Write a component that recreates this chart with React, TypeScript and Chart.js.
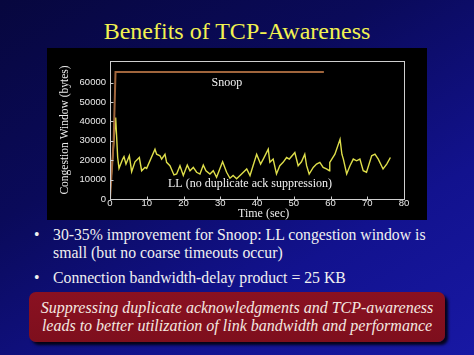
import React, { useEffect, useRef } from "react";
import { Chart, registerables } from "chart.js";

Chart.register(...registerables);

// ---- data ----
const snoopTime = [0, 1.0, 1.5, 58.2];
const snoopWindow = [0, 30000, 65535, 65535];

const llTime = [
  0, 1.54, 2.09, 2.45, 3.45, 3.81, 4.35, 5.26, 5.89, 6.8, 7.98, 8.61, 9.52, 9.97,
  12.24, 12.69, 13.6, 14.05, 14.96, 15.41, 16.32, 17.41, 18.13, 19.04, 19.95,
  21.03, 21.76, 22.67, 23.57, 24.48, 25.39, 26.11, 27.2, 28.1, 29.0, 30.64,
  31.73, 32.64, 33.5, 34.45, 35.8, 37.2, 38.1, 39.9, 40.98, 41.7, 43.06, 43.5,
  44.4, 45.3, 46.2, 47.1, 48.05, 48.8, 50.3, 51.2, 52.1, 53.0, 53.5, 54.2, 55.3,
  56.2, 57.1, 58.0, 58.9, 59.7, 59.8, 61.2, 62.6, 63.1, 63.5, 64.4, 65.3, 66.2,
  67.1, 68.0, 68.9, 69.8, 71.2, 72.1, 73.0, 74.3, 75.3, 76.3,
];
const llWindow = [
  3000, 42000, 21400, 15800, 20600, 21900, 18000, 22300, 14100, 19200, 21400,
  14600, 16300, 15800, 25700, 23100, 22300, 20600, 23100, 18900, 17200, 12400,
  12900, 17200, 12100, 17500, 14600, 16300, 13800, 12900, 17500, 14600, 12900,
  14600, 11200, 19200, 13800, 10700, 12100, 10400, 12900, 15500, 12100, 23100,
  18000, 20600, 25700, 18900, 20600, 12900, 17200, 18900, 21400, 20600, 24000,
  17200, 19200, 23100, 17200, 12900, 16300, 18000, 18900, 16300, 15500, 14600,
  18900, 23100, 30800, 23100, 20600, 12900, 17200, 20600, 19700, 20600, 14600,
  13800, 22300, 23100, 20600, 15500, 18000, 21400,
];

const xMin = 0;
const xMax = 80;
const xStep = 10;
const yMin = 0;
const yMax = 71200;
const yTickValues = [0, 10000, 20000, 30000, 40000, 50000, 60000];

const xTitle = "Time (sec)";
const yTitle = "Congestion Window (bytes)";
const xTitleAt = 41.8; // data-x where the axis title is centred

const noteText = ["Snoop", "LL (no duplicate ack suppression)"];
const noteX = [31.8, 38.1];
const noteY = [60100, 7600];

const slideTitle = "Benefits of TCP-Awareness";
const bullet1a = "30-35% improvement for Snoop: LL congestion window is";
const bullet1b = "small (but no coarse timeouts occur)";
const bullet2 = "Connection bandwidth-delay product = 25 KB";
const boxLine1 = "Suppressing duplicate acknowledgments and TCP-awareness";
const boxLine2 = "leads to better utilization of link bandwidth and performance";

const SERIF = '"Liberation Serif", "Times New Roman", Times, serif';
const SANS = '"Liberation Sans", Arial, Helvetica, sans-serif';

export default function App() {
  const ref = useRef<HTMLCanvasElement>(null);

  useEffect(() => {
    if (!ref.current) return;
    const boxPlugin = {
      id: "boxAndNotes",
      afterDatasetsDraw(chart: any) {
        const { ctx, chartArea: a, scales } = chart;
        const L = Math.round(a.left) + 0.5;
        const T = Math.round(a.top) + 0.5;
        const R = Math.round(a.right) + 0.5;
        const B = Math.round(a.bottom) + 0.5;
        ctx.save();
        ctx.strokeStyle = "#cfcfcf";
        ctx.lineWidth = 1;
        ctx.strokeRect(L, T, R - L, B - T);
        // small inward tick marks
        ctx.beginPath();
        scales.x.ticks.forEach((t: any) => {
          const px = Math.round(scales.x.getPixelForValue(t.value)) + 0.5;
          ctx.moveTo(px, B);
          ctx.lineTo(px, B - 3);
        });
        scales.y.ticks.forEach((t: any) => {
          const py = Math.round(scales.y.getPixelForValue(t.value)) + 0.5;
          ctx.moveTo(L, py);
          ctx.lineTo(L + 3, py);
        });
        ctx.stroke();

        ctx.fillStyle = "#f2f2f2";
        ctx.font = `12px ${SERIF}`;
        ctx.textAlign = "center";
        ctx.textBaseline = "middle";
        noteText.forEach((t, i) => {
          ctx.fillText(
            t,
            scales.x.getPixelForValue(noteX[i]),
            scales.y.getPixelForValue(noteY[i])
          );
        });
        ctx.fillStyle = "#ececec";
        ctx.fillText(xTitle, scales.x.getPixelForValue(xTitleAt), a.bottom + 15);
        ctx.restore();
      },
    };

    const chart = new Chart(ref.current, {
      type: "scatter",
      data: {
        datasets: [
          {
            label: "Snoop",
            data: snoopTime.map((t, i) => ({ x: t, y: snoopWindow[i] })),
            showLine: true,
            borderColor: "#a0653c",
            backgroundColor: "#a0653c",
            borderWidth: 2,
            pointRadius: 0,
          },
          {
            label: "LL",
            data: llTime.map((t, i) => ({ x: t, y: llWindow[i] })),
            showLine: true,
            borderColor: "#dede4a",
            backgroundColor: "#dede4a",
            borderWidth: 1.4,
            pointRadius: 0,
          },
        ],
      },
      options: {
        animation: false,
        responsive: false,
        layout: { padding: { top: 13, right: 23, left: 0, bottom: 0 } },
        plugins: { legend: { display: false }, tooltip: { enabled: false } },
        scales: {
          x: {
            type: "linear",
            min: xMin,
            max: xMax,
            grid: { display: false, drawTicks: false },
            border: { display: false },
            ticks: {
              stepSize: xStep,
              color: "#ececec",
              font: { family: SANS, size: 9.5 },
              padding: -1,
              maxRotation: 0,
            },
            title: { display: false },
            afterFit(s: any) {
              s.height = 21;
            },
          },
          y: {
            type: "linear",
            min: yMin,
            max: yMax,
            grid: { display: false, drawTicks: false },
            border: { display: false },
            afterBuildTicks(s: any) {
              s.ticks = yTickValues.map((v) => ({ value: v }));
            },
            ticks: {
              color: "#ececec",
              font: { family: SANS, size: 9.5 },
              padding: 4,
              callback: (v: any) => String(v),
            },
            title: {
              display: true,
              text: yTitle,
              color: "#ececec",
              font: { family: SERIF, size: 11.5 },
              padding: { top: 11, bottom: 0 },
            },
            afterFit(s: any) {
              s.width = 63;
            },
          },
        },
      },
      plugins: [boxPlugin],
    } as any);
    return () => chart.destroy();
  }, []);

  const abs = (l: number, t: number): React.CSSProperties => ({
    position: "absolute",
    left: l,
    top: t,
    whiteSpace: "nowrap",
  });
  const bulletStyle: React.CSSProperties = {
    fontSize: 15.75,
    lineHeight: "18px",
    color: "#f0f0f0",
  };

  return (
    <div
      style={{
        position: "fixed",
        left: 0,
        top: 0,
        width: 474,
        height: 355,
        overflow: "hidden",
        background:
          "linear-gradient(150deg, #07073e 0%, #0a0a5a 35%, #12128e 70%, #1818a4 100%)",
        fontFamily: SERIF,
      }}
    >
      <div
        style={{
          position: "absolute",
          left: 0,
          top: 17,
          width: 474,
          textAlign: "center",
          fontSize: 24,
          lineHeight: "28px",
          color: "#f2f250",
        }}
      >
        {slideTitle}
      </div>
      <canvas
        ref={ref}
        width={380}
        height={172}
        style={{
          position: "absolute",
          left: 47,
          top: 48,
          width: 380,
          height: 172,
          background: "#000",
        }}
      />
      <div style={{ ...abs(34, 226), ...bulletStyle }}>•</div>
      <div style={{ ...abs(53, 226), ...bulletStyle }}>{bullet1a}</div>
      <div style={{ ...abs(53, 244), ...bulletStyle }}>{bullet1b}</div>
      <div style={{ ...abs(34, 268.5), ...bulletStyle }}>•</div>
      <div style={{ ...abs(53, 268.5), ...bulletStyle }}>{bullet2}</div>
      <div
        style={{
          position: "absolute",
          left: 29,
          top: 292,
          width: 416,
          height: 50,
          boxSizing: "border-box",
          paddingTop: 6.5,
          borderRadius: 7,
          background: "linear-gradient(180deg, #8a1121 0%, #7e0f1d 100%)",
          boxShadow: "3px 3px 3px rgba(0,0,0,0.85)",
          textAlign: "center",
          fontStyle: "italic",
          fontSize: 16,
          lineHeight: "18px",
          color: "#f4e8e0",
          whiteSpace: "nowrap",
        }}
      >
        <div>{boxLine1}</div>
        <div>{boxLine2}</div>
      </div>
    </div>
  );
}
